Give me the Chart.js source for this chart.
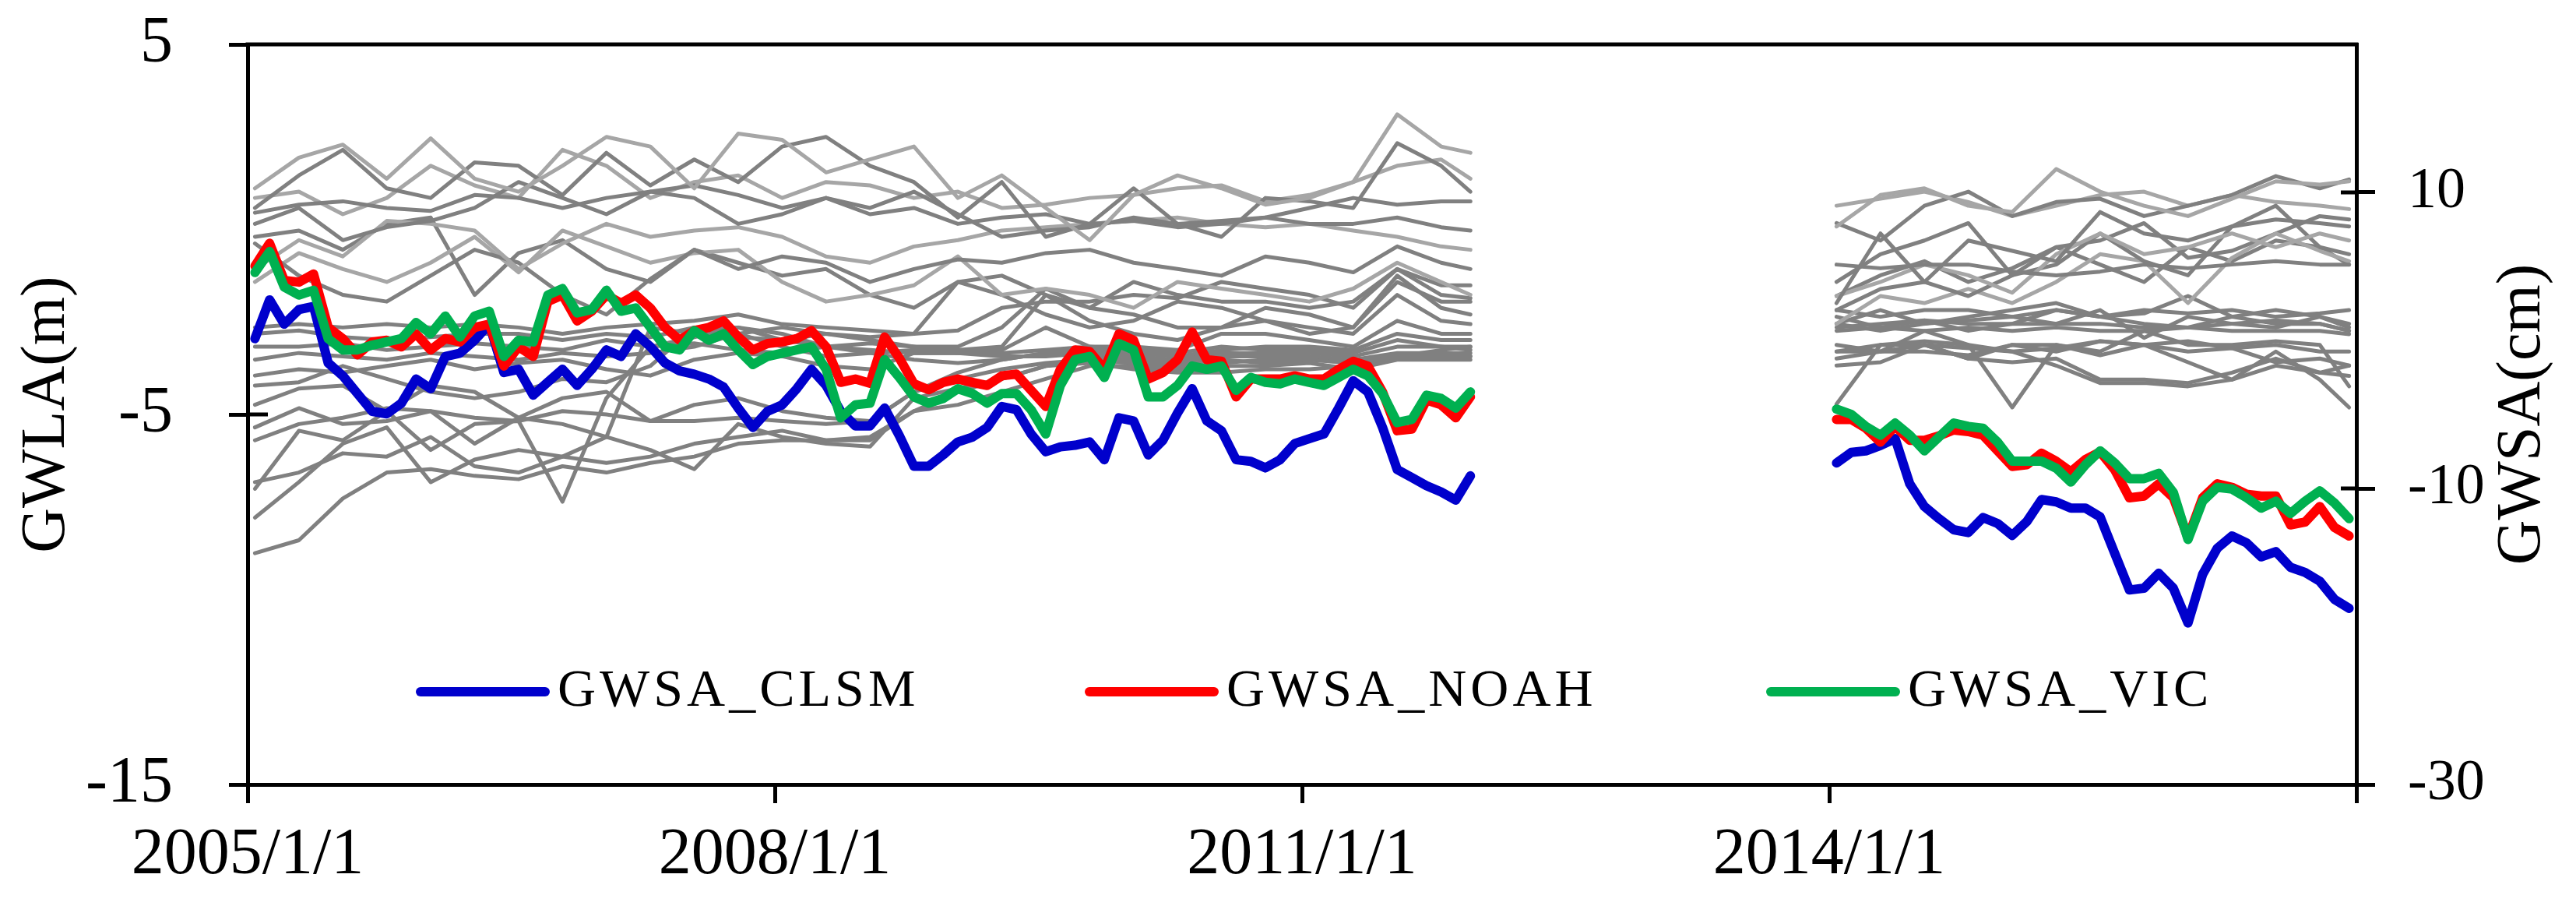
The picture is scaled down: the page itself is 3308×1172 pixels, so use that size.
<!DOCTYPE html>
<html><head><meta charset="utf-8">
<script src="https://cdn.jsdelivr.net/npm/chart.js@4.4.1/dist/chart.umd.min.js"></script>
<style>html,body{margin:0;padding:0;background:#fff;}#wrap{width:3308px;height:1172px;}</style>
</head><body><div id="wrap"><canvas id="c" width="3308" height="1172"></canvas></div>
<script>
// ---------- tick labels / categories ----------
const xTicks = [2005, 2008, 2011, 2014, 2017];
const leftTicks = [-15, -5, 5];
const rightTicks = [-30, -10, 10];
const rightRange = [-30, 20];
const legendLabels = ['GWSA_CLSM', 'GWSA_NOAH', 'GWSA_VIC'];
const leftTitle = 'GWLA(m)';
const rightTitle = 'GWSA(cm)';

// ---------- GWSA (cm), monthly: 2005/1-2011/12 and 2014/1-2016/12 ----------
const clsm1 = [0.12,2.74,1.10,2.08,2.30,-1.52,-2.39,-3.59,-4.79,-4.96,-4.24,-2.61,-3.26,-1.08,-0.86,0.01,1.10,-2.17,-1.95,-3.70,-2.82,-1.95,-3.04,-1.95,-0.64,-1.08,0.45,-0.42,-1.52,-2.06,-2.28,-2.61,-3.15,-4.57,-5.88,-4.79,-4.35,-3.26,-1.95,-3.04,-4.79,-5.77,-5.77,
 -4.57,-6.43,-8.50,-8.50,-7.73,-6.86,-6.53,-5.88,-4.46,-4.68,-6.32,-7.52,-7.19,-7.08,-6.86,-8.06,-5.23,-5.44,-7.73,-6.75,-4.90,-3.26,-5.44,-6.10,-8.06,-8.17,-8.61,-8.06,-6.97,-6.64,-6.32,-4.57,-2.72,-3.48,-5.88,-8.72,-9.26,-9.81,-10.24,-10.79,-9.15];
const noah1 = [5.03,6.56,4.05,3.94,4.49,0.88,0.12,-0.97,-0.10,0.01,-0.43,0.45,-0.64,0.12,-0.10,0.88,1.10,-1.73,-0.43,-1.08,2.63,3.07,1.32,1.97,3.07,2.52,3.07,2.19,0.88,0.01,0.66,0.88,1.32,0.23,-0.64,-0.21,-0.10,0.12,0.66,-0.43,-2.83,-2.61,-2.90,
 0.23,-1.19,-2.93,-3.33,-2.83,-2.61,-2.83,-3.04,-2.39,-2.28,-3.37,-4.46,-1.95,-0.64,-0.75,-1.95,0.45,0.01,-2.61,-2.17,-1.30,0.56,-1.30,-1.41,-3.81,-2.61,-2.61,-2.61,-2.39,-2.61,-2.61,-1.95,-1.41,-1.73,-3.48,-6.10,-5.99,-4.03,-4.35,-5.23,-3.81];
const vic1 = [4.59,6.01,3.61,3.07,3.39,0.12,-0.64,-0.64,-0.32,-0.10,0.12,1.21,0.45,1.65,0.23,1.65,1.97,-1.08,0.01,-0.10,3.07,3.50,1.86,2.08,3.39,1.97,2.19,0.88,-0.43,-0.64,0.66,0.01,0.45,-0.64,-1.63,-1.08,-0.86,-0.64,-0.43,-1.95,-5.23,-4.35,-4.24,
 -1.30,-2.50,-3.81,-4.24,-3.92,-3.26,-3.59,-4.24,-3.59,-3.59,-4.68,-6.32,-3.04,-1.30,-1.08,-2.50,-0.21,-0.64,-3.81,-3.81,-3.04,-1.73,-1.95,-1.73,-3.37,-2.50,-2.83,-2.93,-2.61,-2.83,-3.04,-2.50,-1.95,-2.39,-3.59,-5.55,-5.33,-3.70,-3.92,-4.57,-3.48];
const clsm2 = [-8.28,-7.57,-7.46,-7.10,-6.63,-9.69,-11.22,-12.04,-12.79,-12.98,-11.97,-12.37,-13.17,-12.23,-10.75,-10.91,-11.33,-11.33,-11.92,-14.39,-16.86,-16.74,-15.73,-16.74,-19.09,-15.80,-14.04,-13.21,-13.68,-14.62,-14.27,-15.33,-15.68,-16.27,-17.49,-18.10];
const noah2 = [-5.34,-5.34,-5.93,-6.87,-5.81,-6.75,-6.75,-6.45,-6.05,-6.16,-6.40,-7.46,-8.51,-8.40,-7.62,-8.16,-8.87,-8.04,-7.53,-8.75,-10.63,-10.51,-9.69,-10.63,-13.33,-10.63,-9.69,-9.92,-10.39,-10.51,-10.51,-12.46,-12.27,-11.22,-12.63,-13.21];
const vic2 = [-4.64,-4.99,-5.81,-6.40,-5.58,-6.40,-7.46,-6.52,-5.58,-5.81,-5.93,-6.87,-8.16,-8.16,-8.16,-8.63,-9.57,-8.40,-7.46,-8.28,-9.34,-9.34,-8.98,-10.27,-13.45,-10.86,-9.92,-10.04,-10.63,-11.33,-10.86,-11.69,-10.86,-10.16,-10.98,-12.04];
const gwsaStart1 = 0;     // months after 2005/1
const gwsaStart2 = 108;   // 2014/1

// ---------- GWLA (m) of observation wells, month offsets from 2005/1 ----------
const wellMonths = [0,3,6,9,12,15,18,21,24,27,30,33,36,39,42,45,48,51,54,57,60,63,66,69,72,75,78,81,83,
                    108,111,114,117,120,123,126,129,132,135,138,141,143];
const w01 = [1.11,1.94,2.29,1.37,2.46,1.37,1.02,1.72,2.50,2.24,1.11,2.59,2.42,1.54,1.89,2.24,0.85,1.46,0.58,-0.29,0.93,1.46,1.11,0.67,0.85,1.28,3.11,2.24,2.07, 0.08,0.93,1.11,0.64,0.47,1.63,1.02,0.64,0.36,0.83,1.30,1.21,1.30];
const w02 = [0.58,1.46,2.15,1.11,0.85,1.81,1.72,0.93,2.07,1.19,1.89,1.28,2.24,2.50,1.72,1.28,0.32,1.28,-0.20,0.15,1.11,0.15,-0.20,0.85,0.76,0.58,2.33,1.72,1.02, 0.17,-0.30,0.64,1.02,0.36,0.74,0.83,0.36,0.64,0.93,1.44,1.11,1.35];
const w03 = [0.45,0.67,0.76,0.58,0.50,0.93,0.85,0.58,0.85,1.02,1.19,0.93,0.58,0.85,0.41,0.58,0.15,0.32,0.41,0.15,0.23,0.06,0.15,0.32,0.58,0.85,0.67,0.76,0.76, -0.95,-1.05,-0.95,-0.95,-1.14,-1.24,-1.14,-0.95,-1.05,-0.95,-0.86,-0.95,-0.95];
const w04 = [0.15,0.58,-0.29,0.06,0.23,0.58,1.28,0.85,0.41,1.02,0.85,0.15,0.41,0.85,0.58,1.02,0.41,-0.20,-0.03,0.06,0.32,0.15,0.23,0.32,0.15,0.15,0.32,0.06,-0.03, -1.99,-0.11,-1.42,-0.30,-0.58,-0.86,0.47,-0.11,-0.30,0.08,0.27,0.17,0.08];
const w05 = [-1.07,-0.29,-0.73,0.23,0.15,-0.03,-1.07,-0.38,0.15,-0.20,-0.03,0.06,-0.20,-0.73,-0.90,-0.46,-0.29,-0.03,0.06,0.15,0.23,0.32,0.15,0.06,0.15,-0.03,-0.20,-0.46,-0.55, -1.80,-1.42,-0.95,-1.24,-1.71,-0.67,-0.11,-0.67,-0.48,-0.11,-0.48,-0.11,-0.30];
const w06 = [-0.38,-1.25,-1.77,-1.95,-1.25,-0.55,-0.90,-1.77,-2.30,-1.34,-0.55,-1.07,-0.73,-0.90,-1.42,-1.07,-0.81,-0.90,-0.64,-0.55,-0.90,-1.07,-1.25,-0.73,-0.90,-1.16,-0.46,-0.90,-1.07, -2.18,-1.61,-1.42,-1.80,-1.24,-0.95,-0.11,-0.86,-1.24,0.08,0.64,-0.48,-0.67];
const w07 = [-1.42,-0.64,-1.07,-1.42,-0.90,-0.20,-1.16,-0.03,-0.46,-0.90,-0.64,-0.55,-1.42,-1.95,-1.77,-1.51,-0.73,-1.77,-1.60,-1.77,-2.12,-1.42,-1.60,-1.77,-1.95,-1.60,-0.90,-1.42,-1.77, -2.55,-1.80,-1.99,-1.61,-1.99,-1.42,-0.67,-0.86,-1.99,-0.77,-0.11,-0.58,-0.86];
const w08 = [-2.82,-2.73,-2.91,-2.99,-2.91,-2.82,-2.82,-2.99,-2.82,-2.91,-2.65,-2.82,-2.65,-2.82,-2.91,-2.82,-2.73,-2.12,-1.95,-1.95,-1.77,-1.86,-1.42,-1.60,-1.77,-2.12,-1.07,-1.51,-1.51, -2.55,-2.18,-2.55,-2.36,-2.18,-1.99,-2.36,-2.27,-1.80,-2.36,-2.18,-2.36,-2.55];
const w09 = [-3.17,-3.17,-3.08,-3.26,-3.17,-3.08,-3.17,-3.26,-2.99,-3.17,-2.91,-2.65,-2.99,-3.17,-3.08,-3.17,-3.17,-2.65,-1.60,-2.12,-2.30,-2.65,-2.65,-2.12,-2.30,-2.65,-1.42,-1.95,-1.95, -2.65,-2.55,-2.46,-2.55,-2.55,-2.55,-2.55,-2.65,-2.65,-2.55,-2.46,-2.55,-2.74];
const w10 = [-3.52,-3.34,-3.43,-3.52,-3.34,-3.43,-3.52,-3.34,-3.43,-3.34,-3.17,-2.82,-3.17,-3.43,-3.34,-3.26,-3.26,-3.17,-1.77,-2.47,-2.82,-2.99,-2.65,-2.47,-2.65,-2.82,-1.77,-2.47,-2.56, -2.74,-2.65,-2.74,-2.65,-2.74,-2.65,-2.74,-2.74,-2.65,-2.74,-2.74,-2.74,-2.83];
const w11 = [-3.95,-3.78,-3.87,-3.69,-3.52,-3.78,-3.61,-3.52,-3.78,-3.95,-3.52,-3.34,-3.43,-3.69,-3.78,-3.34,-3.34,-3.26,-2.65,-3.17,-3.17,-3.26,-2.82,-2.82,-2.99,-3.17,-2.47,-2.82,-2.82, -2.55,-2.74,-2.55,-2.46,-2.36,-2.55,-2.18,-2.93,-2.36,-2.55,-2.65,-2.36,-2.65];
const w12 = [-4.74,-4.30,-4.22,-4.91,-4.22,-4.39,-5.09,-4.56,-4.39,-5.18,-4.74,-4.56,-4.91,-5.09,-5.18,-4.39,-3.87,-3.52,-3.34,-3.26,-3.34,-3.43,-3.26,-3.17,-3.17,-3.26,-2.82,-2.99,-2.99, -3.30,-3.12,-3.12,-3.21,-3.30,-3.21,-3.02,-3.12,-3.30,-3.21,-3.12,-3.30,-3.30];
const w13 = [-5.35,-4.83,-5.26,-5.18,-4.91,-5.79,-5.09,-5.26,-5.61,-2.65,-2.82,-2.91,-2.99,-2.82,-2.99,-3.17,-3.34,-3.43,-3.43,-3.34,-3.43,-3.52,-3.34,-3.34,-3.34,-3.43,-3.17,-3.17,-3.26, -3.30,-3.30,-3.30,-3.40,-3.12,-3.12,-3.40,-3.12,-3.02,-3.21,-3.59,-3.49,-3.68];
const w14 = [-7.01,-5.44,-5.70,-4.91,-5.96,-5.26,-5.18,-7.36,-4.56,-3.17,-3.08,-3.26,-3.34,-3.17,-3.34,-3.52,-3.61,-3.52,-3.34,-3.43,-3.52,-3.61,-3.43,-3.43,-3.43,-3.52,-3.34,-3.34,-3.34, -3.49,-3.30,-3.12,-3.49,-3.59,-3.49,-4.06,-4.06,-4.15,-3.87,-3.49,-3.87,-3.68];
const w15 = [-6.83,-6.57,-6.05,-6.14,-5.61,-6.40,-6.57,-6.14,-6.31,-6.14,-5.79,-5.61,-5.44,-5.70,-5.61,-4.91,-4.39,-4.04,-3.69,-3.52,-3.61,-3.69,-3.52,-3.61,-3.52,-3.61,-3.43,-3.43,-3.43, -3.12,-3.30,-2.74,-3.12,-3.30,-3.68,-4.15,-4.15,-4.24,-4.06,-3.30,-4.06,-4.81];
const w16 = [-8.75,-8.40,-7.27,-6.57,-6.48,-6.66,-6.75,-6.40,-6.57,-6.31,-6.14,-5.79,-5.70,-5.70,-5.70,-4.91,-4.74,-4.39,-4.04,-3.69,-3.69,-3.78,-3.69,-3.69,-3.61,-3.78,-3.52,-3.52,-3.52, -4.72,-3.12,-3.02,-3.12,-4.81,-3.12,-3.30,-2.74,-3.12,-3.12,-3.02,-3.12,-4.24];
const w17 = [-7.79,-6.83,-5.79,-5.35,-6.83,-6.22,-5.96,-6.14,-5.61,-5.96,-6.48,-5.26,-5.61,-5.79,-5.87,-4.56,-4.30,-4.04,-3.69,-3.61,-3.78,-3.87,-3.87,-3.78,-3.78,-3.69,-3.43,-3.26,-3.17, -2.36,-2.65,-2.46,-2.74,-2.55,-2.18,-2.36,-2.55,-2.65,-2.36,-2.55,-2.55,-2.74];
const w18 = [-0.20,-0.03,-0.55,0.15,0.32,-1.77,-0.64,-0.29,-1.07,-1.42,-0.55,-0.90,-1.25,-1.07,-1.77,-2.12,-1.42,-1.25,-1.77,-2.12,-1.42,-1.77,-1.95,-1.95,-2.12,-1.95,-1.07,-1.77,-1.86, -1.42,-0.67,-0.30,0.17,-1.24,-0.48,-0.30,0.17,-0.77,-0.58,-0.11,0.36,0.27];
const w19 = [-2.65,-2.56,-2.65,-2.56,-2.65,-2.56,-2.65,-2.82,-2.65,-2.56,-2.47,-2.30,-2.56,-2.65,-2.73,-2.82,-1.42,-1.77,-2.30,-2.65,-2.47,-1.95,-2.12,-2.47,-2.82,-2.65,-1.25,-2.12,-2.30, -2.18,-2.36,-2.18,-2.18,-2.36,-2.18,-2.36,-2.18,-2.27,-2.18,-2.36,-2.27,-2.18];
const w20 = [-4.22,-4.13,-3.69,-4.04,-4.39,-4.56,-4.39,-4.04,-4.13,-3.69,-2.65,-2.65,-2.82,-3.17,-3.26,-3.34,-3.34,-3.34,-3.26,-3.17,-3.26,-3.34,-3.17,-3.26,-3.26,-3.34,-2.99,-3.17,-3.17, -1.80,-1.24,-0.86,-1.42,-1.05,-0.48,-0.95,-1.42,-0.48,-0.86,-0.30,-0.48,-0.95];
const w21 = [0.85,1.02,0.41,0.85,1.72,1.19,0.85,2.15,1.72,0.85,1.28,1.46,0.85,1.28,1.19,0.85,1.02,0.58,0.67,0.85,0.93,1.11,1.19,0.76,0.93,1.28,1.72,1.89,1.37, 0.64,0.83,1.02,0.74,0.36,0.64,0.93,1.02,0.64,0.93,0.74,0.64,0.55];
const w22 = [-5.70,-5.26,-5.09,-4.83,-4.91,-5.09,-5.18,-4.91,-5.00,-5.18,-5.18,-5.09,-5.18,-5.26,-5.18,-4.39,-4.04,-3.78,-3.61,-3.52,-3.61,-3.69,-3.61,-3.52,-3.52,-3.61,-3.43,-3.34,-3.43, -3.68,-3.59,-3.12,-3.49,-3.12,-3.30,-3.02,-3.12,-3.59,-4.06,-3.68,-3.87,-3.96];

// ---------- build points ----------
function monthToX(m) { return xTicks[0] + (m + 0.5) / 12; }
function toPoints(months, vals) {
  const pts = [];
  months.forEach((m, k) => {
    if (k > 0 && m - months[k - 1] > 12) pts.push({ x: monthToX((m + months[k - 1]) / 2), y: null });
    pts.push({ x: monthToX(m), y: vals[k] });
  });
  return pts;
}
function gwsaMonths(a, b) {
  return a.map((_, k) => gwsaStart1 + k).concat(b.map((_, k) => gwsaStart2 + k));
}

const wells = [w01, w02, w03, w04, w05, w06, w07, w08, w09, w10, w11, w12, w13, w14, w15, w16, w17, w18, w19, w20, w21, w22];
const lightWells = [0, 4, 6, 20];
const datasets = [
  { label: legendLabels[2], data: toPoints(gwsaMonths(vic1, vic2), vic1.concat(vic2)), borderColor: '#00B050', borderWidth: 12, yAxisID: 'y2' },
  { label: legendLabels[1], data: toPoints(gwsaMonths(noah1, noah2), noah1.concat(noah2)), borderColor: '#FF0000', borderWidth: 12, yAxisID: 'y2' },
  { label: legendLabels[0], data: toPoints(gwsaMonths(clsm1, clsm2), clsm1.concat(clsm2)), borderColor: '#0000CC', borderWidth: 12, yAxisID: 'y2' }
];
wells.forEach((w, k) => datasets.push({
  label: 'well' + (k + 1), data: toPoints(wellMonths, w),
  borderColor: lightWells.includes(k) ? '#A6A6A6' : '#808080', borderWidth: 5, yAxisID: 'y'
}));

const FONT = 'Liberation Serif, Times New Roman, serif';

const framePlugin = {
  id: 'frame',
  afterDraw(chart) {
    const ctx = chart.ctx, a = chart.chartArea;
    const yL = chart.scales.y, yR = chart.scales.y2;
    ctx.save();
    ctx.strokeStyle = '#000'; ctx.lineWidth = 5; ctx.lineCap = 'butt';
    ctx.beginPath(); ctx.moveTo(a.left - 2.5, a.top); ctx.lineTo(a.right + 2.5, a.top); ctx.stroke();
    leftTicks.forEach(v => {
      if (v === yL.min || v === yL.max) return;
      const py = yL.getPixelForValue(v);
      ctx.beginPath(); ctx.moveTo(a.left, py); ctx.lineTo(a.left + 26, py); ctx.stroke();
    });
    rightTicks.forEach(v => {
      if (v === yR.min || v === yR.max) return;
      const py = yR.getPixelForValue(v);
      ctx.beginPath(); ctx.moveTo(a.right - 20, py); ctx.lineTo(a.right, py); ctx.stroke();
    });
    ctx.fillStyle = '#000';
    ctx.textAlign = 'center'; ctx.textBaseline = 'middle';
    ctx.font = '80px ' + FONT;
    const cy = (a.top + a.bottom) / 2;
    ctx.save(); ctx.translate(61, cy); ctx.rotate(-Math.PI / 2); ctx.fillText(leftTitle, 0, 0); ctx.restore();
    ctx.save(); ctx.translate(3240, cy); ctx.rotate(-Math.PI / 2); ctx.fillText(rightTitle, 0, 0); ctx.restore();
    const items = [
      { ds: datasets[2], x: 540 },
      { ds: datasets[1], x: 1399 },
      { ds: datasets[0], x: 2274 }
    ];
    const ly = 888;
    ctx.font = '68px ' + FONT;
    try { ctx.letterSpacing = '5px'; } catch (e) {}
    ctx.textAlign = 'left';
    items.forEach(it => {
      ctx.strokeStyle = it.ds.borderColor; ctx.lineWidth = 12; ctx.lineCap = 'round';
      ctx.beginPath(); ctx.moveTo(it.x, ly); ctx.lineTo(it.x + 160, ly); ctx.stroke();
      ctx.fillStyle = '#000';
      ctx.fillText(it.ds.label, it.x + 176, ly);
    });
    ctx.restore();
  }
};

function zeroPad(s) { s.paddingTop = 0; s.paddingBottom = 0; s.paddingLeft = 0; s.paddingRight = 0; }

new Chart(document.getElementById('c'), {
  type: 'line',
  data: { datasets },
  options: {
    responsive: false, animation: false, devicePixelRatio: 1,
    layout: { padding: { top: 57, left: 0, right: 0, bottom: 0 } },
    plugins: { legend: { display: false }, tooltip: { enabled: false } },
    elements: { point: { radius: 0 }, line: { tension: 0, borderJoinStyle: 'round', borderCapStyle: 'round' } },
    scales: {
      x: {
        type: 'linear', min: xTicks[0], max: xTicks[xTicks.length - 1],
        afterBuildTicks: s => { s.ticks = xTicks.map(v => ({ value: v })); },
        afterFit: s => { s.height = 165; zeroPad(s); },
        ticks: { callback: v => (v === xTicks[xTicks.length - 1] ? '' : v + '/1/1'), font: { family: FONT, size: 84 }, color: '#000', padding: 18, maxRotation: 0, autoSkip: false },
        grid: { drawOnChartArea: false, drawTicks: true, tickLength: 24, color: '#000', lineWidth: 5 },
        border: { display: true, color: '#000', width: 5 }
      },
      y: {
        position: 'left', min: leftTicks[0], max: leftTicks[leftTicks.length - 1],
        afterBuildTicks: s => { s.ticks = leftTicks.map(v => ({ value: v })); },
        afterFit: s => { s.width = 318; zeroPad(s); },
        ticks: { font: { family: FONT, size: 84 }, color: '#000', padding: 72 },
        grid: { drawOnChartArea: false, drawTicks: true, tickLength: 24, color: '#000', lineWidth: 5 },
        border: { display: true, color: '#000', width: 5 }
      },
      y2: {
        position: 'right', min: rightRange[0], max: rightRange[1],
        afterBuildTicks: s => { s.ticks = rightTicks.map(v => ({ value: v })); },
        afterFit: s => { s.width = 282; zeroPad(s); },
        ticks: { font: { family: FONT, size: 74 }, color: '#000', padding: 42 },
        grid: { drawOnChartArea: false, drawTicks: true, tickLength: 24, color: '#000', lineWidth: 5 },
        border: { display: true, color: '#000', width: 5 }
      }
    }
  },
  plugins: [framePlugin]
});
</script></body></html>
